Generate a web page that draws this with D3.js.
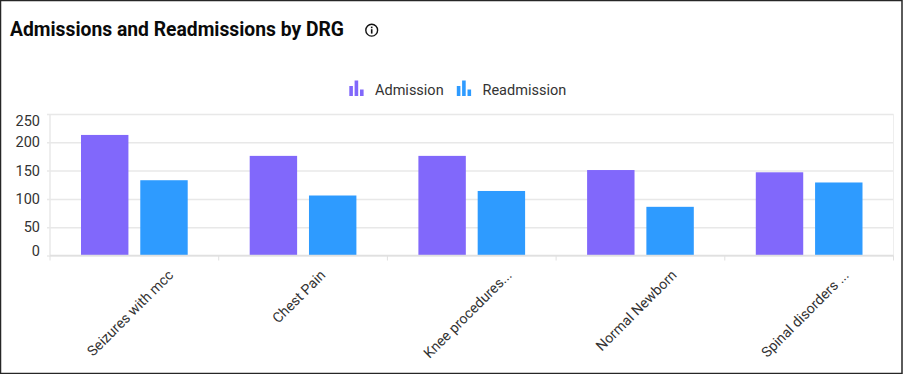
<!DOCTYPE html>
<html>
<head>
<meta charset="utf-8">
<script src="https://cdn.jsdelivr.net/npm/d3@7"></script>
<style>
  html, body { margin: 0; padding: 0; background: #fff; }
  svg { display: block; font-family: Roboto, sans-serif; }
</style>
</head>
<body>
<div id="chart"></div>
<script>
const categories = ["Seizures with mcc", "Chest Pain", "Knee procedures...", "Normal Newborn", "Spinal disorders ..."];
const seriesNames = ["Admission", "Readmission"];
const seriesColors = ["#8168fb", "#2e9bff"];
const admission = [213, 176, 176, 151, 147];
const readmission = [133, 106, 114, 86, 129];
const yTicks = [0, 50, 100, 150, 200, 250];

const width = 903, height = 374;
const margin = {top: 114, right: 9.5, bottom: 118.5, left: 50};
const plotW = width - margin.left - margin.right;
const plotH = height - margin.top - margin.bottom;

const svg = d3.select("#chart").append("svg")
    .attr("width", width)
    .attr("height", height);

// frame
svg.append("rect")
    .attr("x", 0.5).attr("y", 0.5)
    .attr("width", width - 1.5).attr("height", height - 1)
    .attr("fill", "#fff")
    .attr("stroke", "#262626")
    .attr("stroke-width", 1.5);

svg.append("text")
    .attr("x", 10).attr("y", 36)
    .attr("font-size", 19.3)
    .attr("font-weight", 700)
    .attr("fill", "#0a0a0a")
    .text("Admissions and Readmissions by DRG");

// info icon
const info = svg.append("g").attr("transform", "translate(371.7,30.2)");
info.append("circle").attr("r", 5.9).attr("fill", "none").attr("stroke", "#111").attr("stroke-width", 1.4);
info.append("rect").attr("x", -0.8).attr("y", -1).attr("width", 1.6).attr("height", 4.4).attr("fill", "#111");
info.append("rect").attr("x", -0.8).attr("y", -3.6).attr("width", 1.6).attr("height", 1.6).attr("fill", "#111");

// legend
const legendX = [349, 456.5];
const legend = svg.append("g").selectAll("g")
    .data(seriesNames)
    .join("g")
    .attr("transform", (d, i) => "translate(" + legendX[i] + ",80.5)");
legend.each(function(d, i) {
    const g = d3.select(this);
    g.append("rect").attr("x", 0.3).attr("y", 5.5).attr("width", 3.6).attr("height", 10).attr("fill", seriesColors[i]);
    g.append("rect").attr("x", 5.6).attr("y", 0).attr("width", 3.6).attr("height", 15.5).attr("fill", seriesColors[i]);
    g.append("rect").attr("x", 11).attr("y", 9).attr("width", 3.6).attr("height", 6.5).attr("fill", seriesColors[i]);
});
legend.append("text")
    .attr("x", 26).attr("y", 14)
    .attr("font-size", 14.5)
    .attr("fill", "#333")
    .text(d => d);

const plot = svg.append("g").attr("transform", "translate(" + margin.left + "," + margin.top + ")");

const x0 = d3.scaleBand().domain(categories).range([0, plotW]);
const x1 = d3.scaleBand().domain(seriesNames).range([31, 137.7]).paddingInner(0.2);
const y = d3.scaleLinear().domain([0, 250]).range([plotH, 0]);

// y axis with gridlines
const yAxis = plot.append("g")
    .call(d3.axisLeft(y).tickValues(yTicks).tickSize(3).tickPadding(7));
yAxis.select(".domain").attr("stroke", "#e8e8e8").attr("stroke-width", 1.5).attr("d", "M0," + plotH + "V0");
yAxis.selectAll(".tick line").attr("stroke", "#e8e8e8").attr("stroke-width", 1.5)
    .attr("x1", -3).attr("x2", plotW);
// first and last labels are pulled inside the plot height, like the original
yAxis.selectAll(".tick text")
    .attr("font-family", "Roboto, sans-serif")
    .attr("font-size", 14.5)
    .attr("fill", "#333")
    .attr("y", d => d === 250 ? 6.5 : d === 0 ? -5 : 0);

// right edge of plot
plot.append("line")
    .attr("x1", plotW).attr("x2", plotW)
    .attr("y1", 0).attr("y2", plotH)
    .attr("stroke", "#eeeeee");

// bars
const rows = categories.map((c, i) => ({cat: c, values: [admission[i], readmission[i]]}));
plot.selectAll("g.group")
    .data(rows)
    .join("g")
    .attr("class", "group")
    .attr("transform", d => "translate(" + x0(d.cat) + ",0)")
    .selectAll("rect")
    .data(d => d.values.map((v, i) => ({name: seriesNames[i], value: v, color: seriesColors[i]})))
    .join("rect")
    .attr("x", d => x1(d.name))
    .attr("y", d => y(d.value))
    .attr("width", x1.bandwidth())
    .attr("height", d => plotH - y(d.value))
    .attr("fill", d => d.color);

// x axis, tick marks sit between the bands
const xAxis = plot.append("g")
    .attr("transform", "translate(0," + plotH + ")")
    .call(d3.axisBottom(x0).tickSize(0));
xAxis.select(".domain").attr("stroke", "#e0e0e0").attr("stroke-width", 1.5).attr("d", "M0,0H" + plotW);
xAxis.selectAll(".tick text")
    .attr("font-family", "Roboto, sans-serif")
    .attr("font-size", 14.2)
    .attr("fill", "#333")
    .attr("text-anchor", "end")
    .attr("dy", 0)
    .attr("y", 0)
    .attr("transform", function() {
        const half = this.getComputedTextLength() * Math.SQRT1_2 / 2;
        return "translate(" + (half - 0.7) + ",20.5) rotate(-45)";
    });
xAxis.selectAll("line.sep")
    .data(d3.range(categories.length + 1))
    .join("line")
    .attr("class", "sep")
    .attr("x1", d => d * x0.step()).attr("x2", d => d * x0.step())
    .attr("y1", 0).attr("y2", 5)
    .attr("stroke", "#e0e0e0");
</script>
</body>
</html>
